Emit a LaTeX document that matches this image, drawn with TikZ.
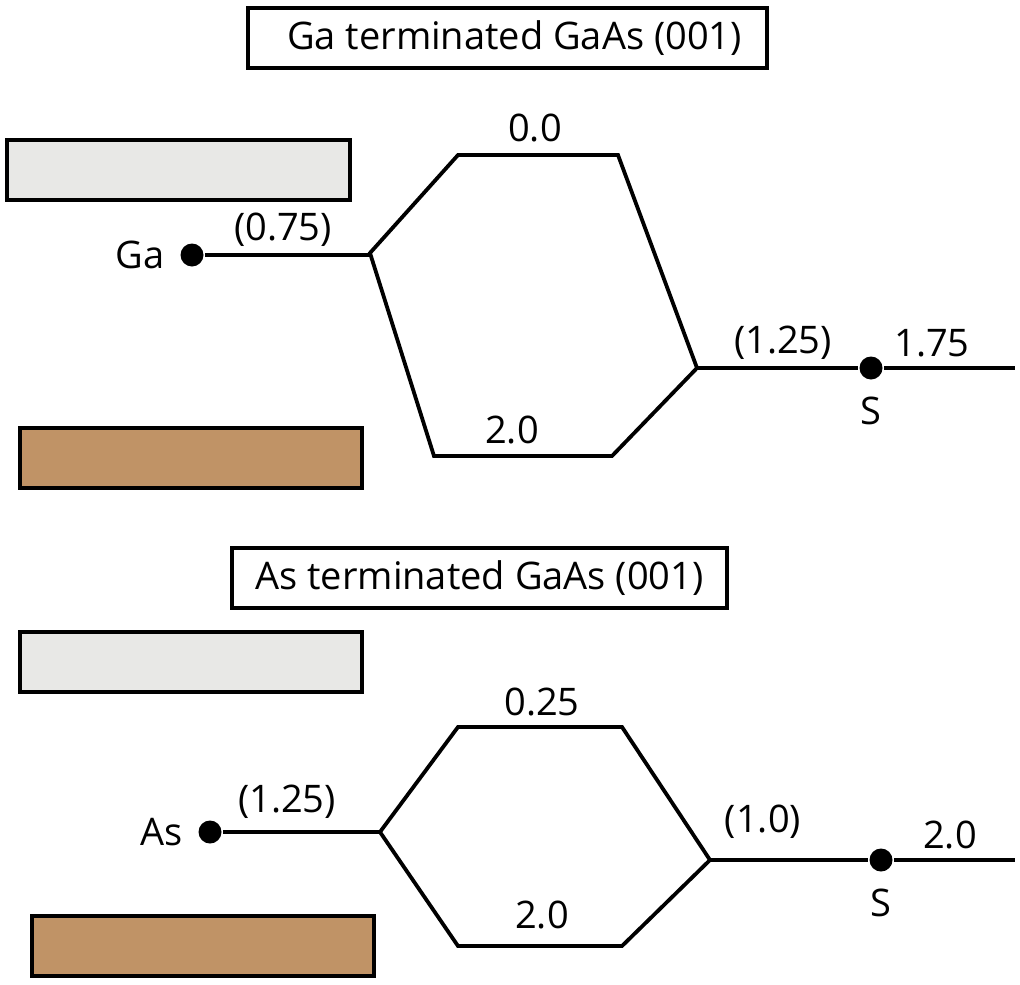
\documentclass[tikz,border=0pt]{standalone}
\usepackage{fontspec}
\setmainfont{Open Sans}
\usetikzlibrary{positioning,calc}
\definecolor{slabgray}{HTML}{E8E8E6}
\definecolor{slabbrown}{HTML}{C09366}

\begin{document}
\begin{tikzpicture}[x=1pt, y=-1pt, line width=3.8pt, every node/.style={font=\fontsize{38}{44}\selectfont}]
            \tikzstyle{titlebox}=[rectangle, draw, line width=3.2pt, minimum height=60pt, inner sep=0pt]
            \tikzstyle{topslab}=[draw, line width=3.2pt, fill=slabgray]
            \tikzstyle{botslab}=[draw, line width=3.2pt, fill=slabbrown]
            \tikzstyle{atom}=[circle, fill=black, minimum size=23pt, inner sep=0pt]
            \tikzstyle{lbl}=[inner sep=0pt]

            \useasboundingbox (0,0) rectangle (1020,985);

            % Ga terminated
            \node[titlebox, minimum width=519pt] (t1) at (507.5,38) {\hspace*{14pt}Ga terminated GaAs (001)};
            \draw[topslab] (7,140) rectangle (350,200);
            \draw[botslab] (20,428) rectangle (362,488);

            \node[atom] (ga) at (192,255) {};
            \node[lbl, left=12pt of ga] (galbl) {Ga};
            \coordinate (a1) at (370,253);
            \coordinate (a2) at (458,155);
            \coordinate (a3) at (618,155);
            \coordinate (a4) at (697,368);
            \coordinate (a5) at (612,456);
            \coordinate (a6) at (434,456);
            \node[atom] (s1) at (871,368) {};
            \coordinate (e1) at (1015,368);

            \draw (ga) -- (a1 |- ga);
            \draw[line join=miter] (a1) -- (a2) -- (a3) -- (a4) -- (a5) -- (a6) -- cycle;
            \draw (a4) -- (s1) -- (e1);

            \node[lbl] at (283,230) {(0.75)};
            \node[lbl] at (535,128) {0.0};
            \node[lbl] at (512,430) {2.0};
            \node[lbl] at (783,343) {(1.25)};
            \node[lbl] at (932,343) {1.75};
            \node[lbl, below=14pt of s1] {S};

            % As terminated
            \node[titlebox, minimum width=495pt] (t2) at (479.5,578) {As terminated GaAs (001)};
            \draw[topslab] (20,632) rectangle (362,692);
            \draw[botslab] (32,916) rectangle (374,976);

            \node[atom] (as) at (210,832) {};
            \node[lbl, left=12pt of as] (aslbl) {As};
            \coordinate (b1) at (380,832);
            \coordinate (b2) at (458,727);
            \coordinate (b3) at (622,727);
            \coordinate (b4) at (710,860);
            \coordinate (b5) at (622,946);
            \coordinate (b6) at (458,946);
            \node[atom] (s2) at (881,860) {};
            \coordinate (e2) at (1015,860);

            \draw (as) -- (b1);
            \draw[line join=miter] (b1) -- (b2) -- (b3) -- (b4) -- (b5) -- (b6) -- cycle;
            \draw (b4) -- (s2) -- (e2);

            \node[lbl] at (287,802) {(1.25)};
            \node[lbl] at (542,702) {0.25};
            \node[lbl] at (542,915) {2.0};
            \node[lbl] at (763,822) {(1.0)};
            \node[lbl] at (950,835) {2.0};
            \node[lbl, below=14pt of s2] {S};
        \end{tikzpicture}
\end{document}
